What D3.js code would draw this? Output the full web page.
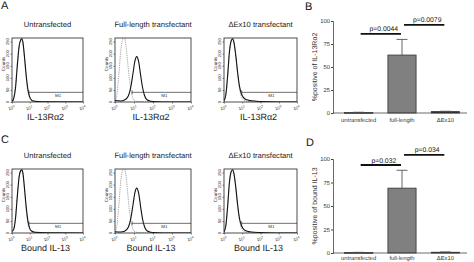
<!DOCTYPE html>
<html><head><meta charset="utf-8">
<script src="https://cdn.jsdelivr.net/npm/d3@7"></script>
<style>body{margin:0;background:#fff}svg{display:block;font-family:"Liberation Sans",Arial,Helvetica,sans-serif;text-rendering:geometricPrecision}</style>
</head><body><svg id="c" width="474" height="262"></svg>
<script>
// ---------- DATA ----------
const panelLetters = ["A","B","C","D"];
const histTitles = ["Untransfected","Full-length transfectant","\u0394Ex10 transfectant"];
const histXLabels = ["IL-13R\u03b12","Bound IL-13"];
const histYTicks = [0,50,100,150,200,250];
const histXTicks = [0,1,2,3,4];
const gateLabel = "M1";
const gateStart = [0.95, 0.9, 0.97];
const gateCount = 40;
// histogram curves: [log10 fluorescence, counts]
const aUnCtrl = [[0,6],[0.1,20],[0.2,75],[0.3,165],[0.4,235],[0.5,260],[0.58,258],[0.68,200],[0.78,115],[0.88,50],[0.98,18],[1.1,7],[1.3,3],[1.6,1],[2,0],[4,0]];
const aUnStain = [[0,8],[0.05,5],[0.1,15],[0.2,60],[0.3,150],[0.4,230],[0.5,258],[0.56,262],[0.62,245],[0.7,190],[0.8,110],[0.9,50],[1.0,20],[1.1,8],[1.2,4],[1.5,2],[2,1],[4,0]];
const aFlCtrl = [[0,5],[0.1,30],[0.2,110],[0.3,210],[0.4,260],[0.47,270],[0.55,250],[0.65,180],[0.75,100],[0.85,45],[0.95,15],[1.05,5],[1.2,2],[2,0],[4,0]];
const aFlStain = [[0,6],[0.3,4],[0.5,8],[0.7,25],[0.85,70],[0.95,120],[1.05,170],[1.14,188],[1.25,165],[1.35,110],[1.45,60],[1.55,28],[1.65,12],[1.8,5],[2,2],[2.5,0],[4,0]];
const aExCtrl = [[0,5],[0.1,28],[0.2,105],[0.3,205],[0.4,252],[0.48,260],[0.56,240],[0.66,180],[0.76,105],[0.86,50],[0.96,20],[1.1,7],[1.4,2],[2,0],[4,0]];
const aExStain = [[0,5],[0.1,30],[0.2,110],[0.3,210],[0.4,255],[0.48,262],[0.55,245],[0.65,190],[0.75,120],[0.85,65],[0.95,35],[1.05,20],[1.2,10],[1.5,5],[2,2],[3,0],[4,0]];
const cUnCtrl = [[0,6],[0.1,18],[0.2,70],[0.3,160],[0.4,232],[0.5,258],[0.58,256],[0.68,198],[0.78,112],[0.88,48],[0.98,17],[1.1,6],[1.3,2],[2,0],[4,0]];
const cUnStain = [[0,7],[0.1,16],[0.2,62],[0.3,152],[0.4,232],[0.5,259],[0.56,262],[0.62,246],[0.7,188],[0.8,108],[0.9,48],[1.0,19],[1.1,8],[1.3,3],[2,1],[4,0]];
const cFlCtrl = [[0,5],[0.1,30],[0.2,112],[0.3,212],[0.4,262],[0.47,270],[0.55,252],[0.65,182],[0.75,100],[0.85,44],[0.95,14],[1.05,5],[1.2,2],[2,0],[4,0]];
const cFlStain = [[0,5],[0.3,4],[0.5,7],[0.7,24],[0.85,68],[0.95,118],[1.05,168],[1.14,186],[1.25,163],[1.35,108],[1.45,58],[1.55,27],[1.65,12],[1.8,5],[2,2],[2.5,0],[4,0]];
const cExCtrl = [[0,5],[0.1,28],[0.2,105],[0.3,205],[0.4,252],[0.48,260],[0.56,240],[0.66,178],[0.76,102],[0.86,48],[0.96,18],[1.1,6],[1.4,2],[2,0],[4,0]];
const cExStain = [[0,5],[0.1,30],[0.2,112],[0.3,212],[0.4,256],[0.48,262],[0.55,244],[0.65,186],[0.75,115],[0.85,60],[0.95,32],[1.05,18],[1.2,9],[1.5,4],[2,2],[3,0],[4,0]];

const barCategories = ["untransfected","full-length","\u0394Ex10"];
const barYTicks = [0,25,50,75,100];
const bValues = [0.5, 63, 1.5];
const bErrors = [0.3, 17, 0.4];
const dValues = [0.5, 69, 0.8];
const dErrors = [0.2, 19, 0.3];
const bYLabel = "%positive of IL-13R\u03b12";
const dYLabel = "%positive of bound IL-13";
const bPLabels = ["p=0.0044","p=0.0079"];
const bPLevels = [86, 95.7];
const dPLabels = ["p=0.032","p=0.034"];
const dPLevels = [93.6, 104.3];
const pPairs = [[0,1],[1,2]];

// ---------- DRAW ----------
const svg = d3.select("#c");
const font = '"Liberation Sans",Arial,sans-serif';

[[1,9],[305,10],[1,143],[306,146]].forEach((p,i)=>{
  svg.append("text").attr("x",p[0]).attr("y",p[1]).attr("font-size",11).attr("fill","#111").text(panelLetters[i]);
});

const boxes = [{x0:12,x1:83},{x0:115,x1:191},{x0:224,x1:297}];
const rows = [
  {top:38,bot:102,title:27,xl:120,curves:[[aUnCtrl,aUnStain],[aFlCtrl,aFlStain],[aExCtrl,aExStain]],label:histXLabels[0]},
  {top:169,bot:233,title:158,xl:251,curves:[[cUnCtrl,cUnStain],[cFlCtrl,cFlStain],[cExCtrl,cExStain]],label:histXLabels[1]}
];

rows.forEach(row=>{
  boxes.forEach((b,i)=>{
    const x = d3.scaleLinear().domain([0,4]).range([b.x0,b.x1]);
    const y = d3.scaleLinear().domain([0,265]).range([row.bot,row.top]);
    const g = svg.append("g");
    const cid = "clip"+row.top+"_"+i;
    svg.append("clipPath").attr("id",cid).append("rect")
      .attr("x",b.x0).attr("y",row.top).attr("width",b.x1-b.x0).attr("height",row.bot-row.top);
    const line = d3.line().x(d=>x(d[0])).y(d=>y(d[1])).curve(d3.curveMonotoneX);
    g.append("path").datum(row.curves[i][0]).attr("d",line).attr("fill","none")
      .attr("stroke","#9a9a9a").attr("stroke-width",0.9).attr("stroke-dasharray","1.2,1")
      .attr("clip-path",`url(#${cid})`);
    g.append("path").datum(row.curves[i][1]).attr("d",line).attr("fill","none")
      .attr("stroke","#111").attr("stroke-width",1.1).attr("clip-path",`url(#${cid})`);
    const gy = y(gateCount);
    g.append("line").attr("x1",x(gateStart[i])).attr("x2",x(4)).attr("y1",gy).attr("y2",gy)
      .attr("stroke","#333").attr("stroke-width",0.7);
    g.append("line").attr("x1",x(gateStart[i])).attr("x2",x(gateStart[i])).attr("y1",gy-2).attr("y2",gy+2)
      .attr("stroke","#333").attr("stroke-width",0.7);
    g.append("text").attr("x",x(2.6)).attr("y",gy+5).attr("text-anchor","middle")
      .attr("font-size",4.5).attr("fill","#333").text(gateLabel);
    g.append("rect").attr("x",b.x0).attr("y",row.top).attr("width",b.x1-b.x0).attr("height",row.bot-row.top)
      .attr("fill","none").attr("stroke","#222").attr("stroke-width",0.8);
    const ya = g.append("g").attr("transform",`translate(${b.x0},0)`)
      .call(d3.axisLeft(y).tickValues(histYTicks).tickSize(1.5).tickFormat(""));
    ya.select(".domain").remove();
    ya.selectAll("line").attr("stroke","#333").attr("stroke-width",0.6);
    histYTicks.forEach(t=>{
      g.append("text").attr("transform",`translate(${b.x0-3},${y(t)}) rotate(-90)`)
        .attr("text-anchor","middle").attr("font-size",4.2).attr("fill","#333").text(t);
    });
    g.append("text").attr("transform",`translate(${b.x0-7},${(row.top+row.bot)/2-6}) rotate(-90)`)
      .attr("text-anchor","middle").attr("font-size",4.5).attr("fill","#333").text("Counts");
    const xa = g.append("g").attr("transform",`translate(0,${row.bot})`)
      .call(d3.axisBottom(x).tickValues(histXTicks).tickSize(1.5).tickFormat(""));
    xa.select(".domain").remove();
    xa.selectAll("line").attr("stroke","#333").attr("stroke-width",0.6);
    histXTicks.forEach(t=>{
      const tx = g.append("text").attr("transform",`translate(${x(t)},${row.bot+7.5}) rotate(-15)`)
        .attr("text-anchor","middle").attr("font-size",4.3).attr("fill","#333");
      tx.append("tspan").text("10");
      tx.append("tspan").attr("dy",-1.8).attr("font-size",3.3).text(t);
    });
    g.append("text").attr("x",(b.x0+b.x1)/2).attr("y",row.title).attr("text-anchor","middle")
      .attr("font-size",7.6).attr("fill","#222").text(histTitles[i]);
    g.append("text").attr("x",(b.x0+b.x1)/2-2).attr("y",row.xl).attr("text-anchor","middle")
      .attr("font-size",9).attr("fill","#222").text(row.label);
  });
});

function barChart(cfg){
  const x = d3.scaleBand().domain(barCategories).range([337,467]).paddingInner(0.35).paddingOuter(0.175);
  const y = d3.scaleLinear().domain([0,100]).range([cfg.bot,cfg.top]);
  const g = svg.append("g");
  const fills = ["#bdbdbd","#808080","#1a1a1a"];
  g.selectAll("rect.bar").data(cfg.values).enter().append("rect")
    .attr("x",(d,i)=>x(barCategories[i])).attr("width",x.bandwidth())
    .attr("y",d=>y(d)).attr("height",d=>Math.max(0.8,cfg.bot-y(d)))
    .attr("fill",(d,i)=>fills[i]).attr("stroke","#333").attr("stroke-width",0.8);
  cfg.values.forEach((v,i)=>{
    const cx = x(barCategories[i])+x.bandwidth()/2;
    const ye = y(v+cfg.errors[i]);
    g.append("line").attr("x1",cx).attr("x2",cx).attr("y1",y(v)).attr("y2",ye).attr("stroke","#555").attr("stroke-width",0.9);
    g.append("line").attr("x1",cx-5.5).attr("x2",cx+5.5).attr("y1",ye).attr("y2",ye).attr("stroke","#555").attr("stroke-width",0.9);
  });
  const ya = g.append("g").attr("transform","translate(333,0)")
    .call(d3.axisLeft(y).tickValues(barYTicks).tickSize(2).tickPadding(1));
  ya.select(".domain").attr("stroke","#444").attr("stroke-width",0.8);
  ya.selectAll("line").attr("stroke","#444");
  ya.selectAll("text").attr("font-size",5.8).attr("font-family",font).attr("fill","#333");
  g.append("line").attr("x1",333).attr("x2",467).attr("y1",cfg.bot).attr("y2",cfg.bot).attr("stroke","#444").attr("stroke-width",0.8);
  const xa = g.append("g").attr("transform",`translate(0,${cfg.bot})`)
    .call(d3.axisBottom(x).tickSize(0).tickPadding(cfg.pad));
  xa.select(".domain").remove();
  xa.selectAll("text").attr("font-size",5.8).attr("font-family",font).attr("fill","#333");
  g.append("text").attr("transform",`translate(317,${(cfg.top+cfg.bot)/2}) rotate(-90)`)
    .attr("text-anchor","middle").attr("font-size",7).attr("fill","#333").text(cfg.ylabel);
  pPairs.forEach((pr,k)=>{
    const xa0 = x(barCategories[pr[0]])+x.bandwidth()/2+2;
    const xa1 = x(barCategories[pr[1]])+x.bandwidth()/2-1;
    const ly = y(cfg.pLevels[k]);
    g.append("line").attr("x1",xa0).attr("x2",xa1).attr("y1",ly).attr("y2",ly).attr("stroke","#111").attr("stroke-width",1.8);
    g.append("text").attr("x",(xa0+xa1)/2+3).attr("y",ly-2.5).attr("text-anchor","middle")
      .attr("font-size",6.8).attr("fill","#222").text(cfg.pLabels[k]);
  });
}
barChart({top:21,bot:113,pad:5,values:bValues,errors:bErrors,ylabel:bYLabel,pLabels:bPLabels,pLevels:bPLevels});
barChart({top:159,bot:253,pad:2.5,values:dValues,errors:dErrors,ylabel:dYLabel,pLabels:dPLabels,pLevels:dPLevels});
</script></body></html>
